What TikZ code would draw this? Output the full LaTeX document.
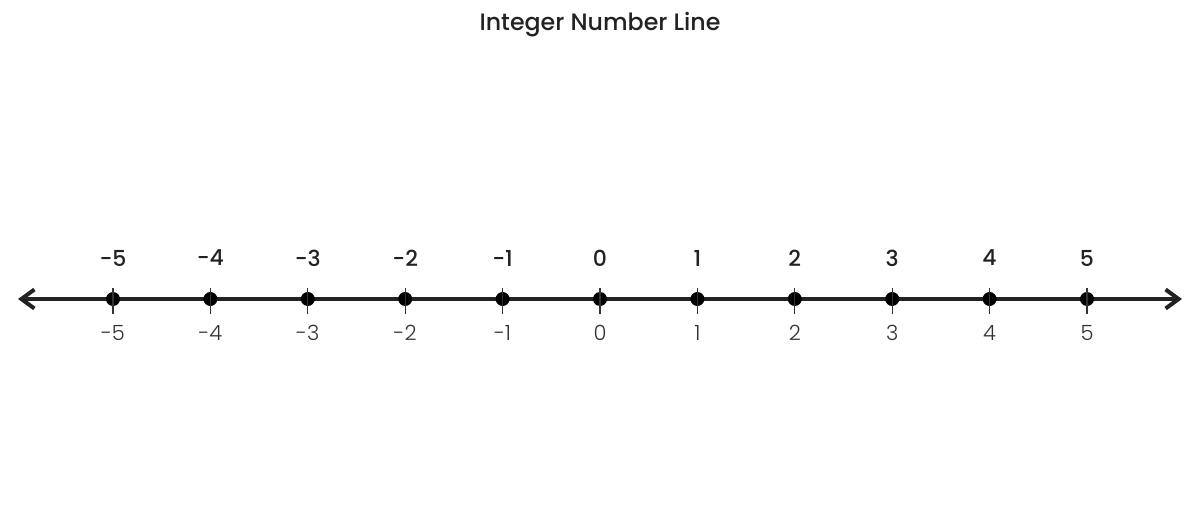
\documentclass[tikz,border=0pt]{standalone}
\usepackage{fontspec}
\setmainfont{Poppins}
\newfontfamily\lightfont{Poppins Light}
\newfontfamily\midfont{Poppins Medium}
\usetikzlibrary{arrows.meta}
\definecolor{ink}{HTML}{222222}
\definecolor{soft}{HTML}{333333}
\tikzset{
  toplabel/.style={font=\midfont\fontsize{22}{26}\selectfont,text=ink},
  botlabel/.style={font=\lightfont\fontsize{21}{25}\selectfont,text=soft},
  barb/.tip={Straight Barb[length=13pt,width=19pt]}
}

\begin{document}
\begin{tikzpicture}[x=1pt,y=-1pt]
        \useasboundingbox (0,0) rectangle (1200,530);
        \node[font=\midfont\fontsize{23.7}{28}\selectfont,text=ink] (title) at (600,25) {Integer Number Line};

        \coordinate (left) at (18,299);
        \coordinate (right) at (1182,299);
        \draw[barb-barb,line width=4pt,ink](left)--(right);

        \foreach \n in {-5,...,5}{
            \coordinate (p\n) at ({600+97.4*\n},299);
            \fill[black] (p\n) circle (7);
            \draw[line width=1.3pt,soft] ([yshift=-15pt]p\n)--([yshift=11pt]p\n);
            \node[toplabel] (t\n) at ({600+97.4*\n},258) {\n};
            \node[botlabel] (b\n) at ({600+97.4*\n},333) {\n};
        }
    \end{tikzpicture}
\end{document}
